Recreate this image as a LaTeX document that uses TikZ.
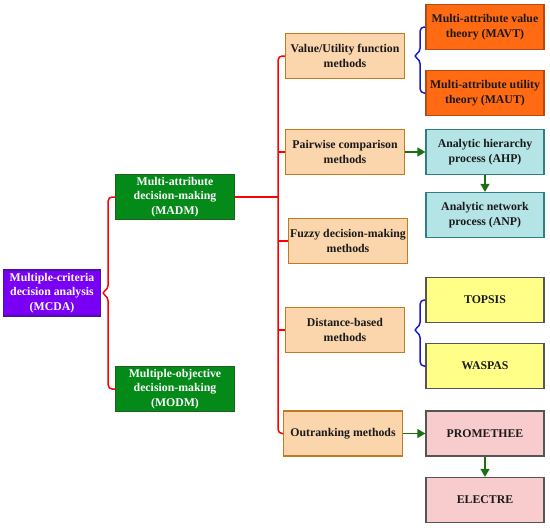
\documentclass[tikz,border=0pt]{standalone}
\usepackage{fontspec}
\setmainfont{Liberation Serif}
\usepackage{tikz}
\usetikzlibrary{arrows.meta,calc}

\definecolor{mcdafill}{HTML}{7A00F5}
\definecolor{mcdadraw}{HTML}{4A12A8}
\definecolor{madmfill}{HTML}{048A18}
\definecolor{madmdraw}{HTML}{1F5F1F}
\definecolor{methfill}{HTML}{FBD5AC}
\definecolor{methdraw}{HTML}{C27A20}
\definecolor{mavtfill}{HTML}{FF6A12}
\definecolor{mavtdraw}{HTML}{B24A12}
\definecolor{ahpfill}{HTML}{B5E4E6}
\definecolor{ahpdraw}{HTML}{2F8083}
\definecolor{topfill}{HTML}{FFFF88}
\definecolor{promfill}{HTML}{F8CCCC}
\definecolor{graydraw}{HTML}{555555}
\definecolor{braceblue}{HTML}{1A1AC8}
\definecolor{arrowgreen}{HTML}{1E6E14}

\begin{document}
\begin{tikzpicture}[x=1pt, y=-1pt, >={Triangle[length=8pt,width=9pt]}]
\useasboundingbox (0,0) rectangle (550,528);
\tikzstyle{every node} = [rectangle, line width=1.3pt, align=center,
  minimum width=119pt, minimum height=45pt, inner sep=0.5pt,
  font=\fontsize{11.8}{14.5}\selectfont\bfseries, text=black!90]
\tikzstyle{top} = [fill=mcdafill, draw=mcdadraw, text=white, minimum width=97pt, minimum height=46pt]
\tikzstyle{sub} = [fill=madmfill, draw=madmdraw, text=white]
\tikzstyle{meth} = [fill=methfill, draw=methdraw]
\tikzstyle{mavt} = [fill=mavtfill, draw=mavtdraw, minimum width=118pt]
\tikzstyle{ahp} = [fill=ahpfill, draw=ahpdraw, minimum width=118pt]
\tikzstyle{topsis} = [fill=topfill, draw=graydraw, minimum width=118pt]
\tikzstyle{prom} = [fill=promfill, draw=graydraw, minimum width=118pt]
\tikzstyle{redline} = [draw=red, line width=1.5pt, rounded corners=4pt]
\tikzstyle{blueline} = [draw=braceblue, line width=1.5pt, rounded corners=4pt]
\tikzstyle{greenarrow} = [draw=arrowgreen, fill=arrowgreen, line width=1.6pt]

\node[top] (mcda) at (52, 293) {Multiple-criteria\\decision analysis\\(MCDA)};
\node[sub] (madm) at (175, 197) {Multi-attribute\\decision-making\\(MADM)};
\node[sub] (modm) at (175, 389) {Multiple-objective\\decision-making\\(MODM)};

\node[meth] (value) at (345, 56) {Value/Utility function\\methods};
\node[meth] (pair) at (345, 152) {Pairwise comparison\\methods};
\node[meth] (fuzzy) at (348, 241) {Fuzzy decision-making\\methods};
\node[meth] (dist) at (345, 330) {Distance-based\\methods};
\node[meth] (outr) at (343, 433.5) {Outranking methods};

\node[mavt] (mavt) at (485, 27) {Multi-attribute value\\theory (MAVT)};
\node[mavt] (maut) at (485, 93) {Multi-attribute utility\\theory (MAUT)};
\node[ahp] (ahp) at (485, 152) {Analytic hierarchy\\process (AHP)};
\node[ahp] (anp) at (485, 215) {Analytic network\\process (ANP)};
\node[topsis] (topsis) at (485, 300) {TOPSIS};
\node[topsis] (waspas) at (485, 366) {WASPAS};
\node[prom] (prom) at (485, 433.5) {PROMETHEE};
\node[prom] (electre) at (485, 500) {ELECTRE};

% red braces
\draw[redline] (madm.west) -| ($(mcda.east)+(7,-4)$) -- (mcda.east)
  -- ($(mcda.east)+(7,4)$) |- (modm.west);
\coordinate (hub) at ($(madm.east)+(43,0)$);
\draw[redline] (value.west) -| (hub) |- (outr.west);
\draw[redline] (madm.east) -- (hub);
\foreach \n in {pair, fuzzy, dist}
\draw[redline] (hub |- \n.west) -- (\n.west);

% blue braces
\foreach \from/\a/\b in {value/mavt/maut, dist/topsis/waspas}
\draw[blueline] (\a.west) -| ($(\from.east)+(15,-4)$) -- ($(\from.east)+(8,0)$)
  -- ($(\from.east)+(15,4)$) |- (\b.west);

% green arrows
\foreach \from/\to in {pair/ahp, ahp/anp, outr/prom, prom/electre}
\draw [->, greenarrow] (\from) -- (\to);
\end{tikzpicture}
\end{document}
